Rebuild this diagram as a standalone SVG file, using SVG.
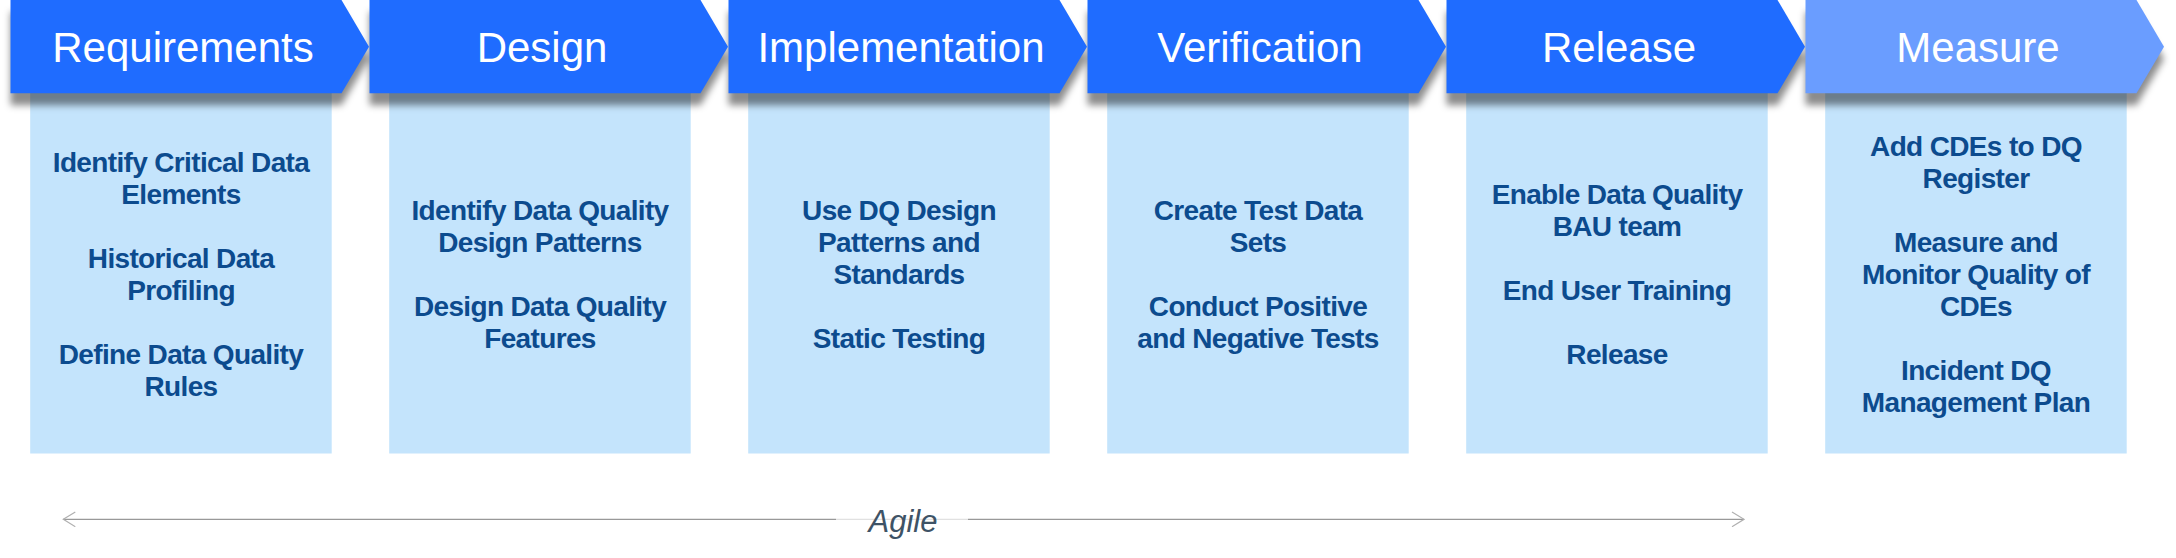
<svg xmlns="http://www.w3.org/2000/svg" width="2176" height="558" viewBox="0 0 2176 558">
<style>
.box{fill:#C4E4FC}
.chev{fill:#1F6CFF}
.chev.light{fill:#6A9DFF}
.shadow{fill:#000000;fill-opacity:0.45}
.head{font-family:"Liberation Sans",Arial,sans-serif;font-size:42px;fill:#FFFFFF;text-anchor:middle}
.body{font-family:"Liberation Sans",Arial,sans-serif;font-size:28px;font-weight:bold;fill:#0C4B8E;text-anchor:middle;letter-spacing:-0.65px}
.agile{font-family:"Liberation Sans",Arial,sans-serif;font-size:31px;font-style:italic;fill:#3E5366;text-anchor:middle}
</style>
<defs>
<filter id="blur" x="-10%" y="-30%" width="120%" height="160%">
<feGaussianBlur stdDeviation="3.5"/>
</filter>
<path id="pent" d="M0,0 H331 L358.5,46.7 L331,93.3 H0 Z"/>
<marker id="open" viewBox="0 0 14 16" refX="13" refY="8" markerWidth="14" markerHeight="16" markerUnits="userSpaceOnUse" orient="auto-start-reverse">
<path d="M1,0.6 L13,8 L1,15.4" fill="none" stroke="#B0B0B0" stroke-width="1.2"/>
</marker>
</defs>
<rect width="2176" height="558" fill="#FFFFFF"/>

<g id="boxes">
<rect class="box" x="30.2" y="93" width="301.5" height="360.5"/>
<rect class="box" x="389.2" y="93" width="301.5" height="360.5"/>
<rect class="box" x="748.2" y="93" width="301.5" height="360.5"/>
<rect class="box" x="1107.2" y="93" width="301.5" height="360.5"/>
<rect class="box" x="1466.2" y="93" width="301.5" height="360.5"/>
<rect class="box" x="1825.2" y="93" width="301.5" height="360.5"/>
</g>

<g id="shadows" filter="url(#blur)">
<use href="#pent" class="shadow" x="10.5" y="12"/>
<use href="#pent" class="shadow" x="369.5" y="12"/>
<use href="#pent" class="shadow" x="728.5" y="12"/>
<use href="#pent" class="shadow" x="1087.5" y="12"/>
<use href="#pent" class="shadow" x="1446.5" y="12"/>
<use href="#pent" class="shadow" x="1805.5" y="12"/>
</g>

<g id="requirements">
<use href="#pent" class="chev" x="10.5" y="0"/>
<text class="head" x="183" y="62.3">Requirements</text>
<text class="body"><tspan x="181" y="171.5">Identify Critical Data</tspan><tspan x="181" y="203.5">Elements</tspan><tspan x="181" y="267.5">Historical Data</tspan><tspan x="181" y="299.5">Profiling</tspan><tspan x="181" y="363.5">Define Data Quality</tspan><tspan x="181" y="395.5">Rules</tspan></text>
</g>

<g id="design">
<use href="#pent" class="chev" x="369.5" y="0"/>
<text class="head" x="542" y="62.3">Design</text>
<text class="body"><tspan x="540" y="219.5">Identify Data Quality</tspan><tspan x="540" y="251.5">Design Patterns</tspan><tspan x="540" y="315.5">Design Data Quality</tspan><tspan x="540" y="347.5">Features</tspan></text>
</g>

<g id="implementation">
<use href="#pent" class="chev" x="728.5" y="0"/>
<text class="head" x="901" y="62.3">Implementation</text>
<text class="body"><tspan x="899" y="219.5">Use DQ Design</tspan><tspan x="899" y="251.5">Patterns and</tspan><tspan x="899" y="283.5">Standards</tspan><tspan x="899" y="347.5">Static Testing</tspan></text>
</g>

<g id="verification">
<use href="#pent" class="chev" x="1087.5" y="0"/>
<text class="head" x="1260" y="62.3">Verification</text>
<text class="body"><tspan x="1258" y="219.5">Create Test Data</tspan><tspan x="1258" y="251.5">Sets</tspan><tspan x="1258" y="315.5">Conduct Positive</tspan><tspan x="1258" y="347.5">and Negative Tests</tspan></text>
</g>

<g id="release">
<use href="#pent" class="chev" x="1446.5" y="0"/>
<text class="head" x="1619" y="62.3">Release</text>
<text class="body"><tspan x="1617" y="203.5">Enable Data Quality</tspan><tspan x="1617" y="235.5">BAU team</tspan><tspan x="1617" y="299.5">End User Training</tspan><tspan x="1617" y="363.5">Release</tspan></text>
</g>

<g id="measure">
<use href="#pent" class="chev light" x="1805.5" y="0"/>
<text class="head" x="1978" y="62.3">Measure</text>
<text class="body"><tspan x="1976" y="155.5">Add CDEs to DQ</tspan><tspan x="1976" y="187.5">Register</tspan><tspan x="1976" y="251.5">Measure and</tspan><tspan x="1976" y="283.5">Monitor Quality of</tspan><tspan x="1976" y="315.5">CDEs</tspan><tspan x="1976" y="379.5">Incident DQ</tspan><tspan x="1976" y="411.5">Management Plan</tspan></text>
</g>

<g id="connectors">
<path d="M63.3,519.3 H1744" fill="none" stroke="#999999" stroke-width="1.3" marker-start="url(#open)" marker-end="url(#open)"/>
<rect x="836" y="505" width="132" height="30" fill="#FFFFFF" fill-opacity="0.7"/>
<text class="agile" x="903" y="531.5">Agile</text>
</g>
</svg>
